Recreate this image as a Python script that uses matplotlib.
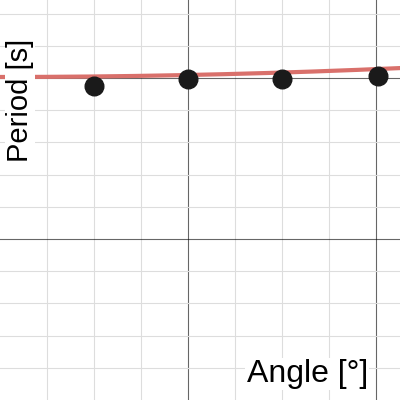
import numpy as np
import matplotlib.pyplot as plt

angles = [10, 20, 30, 40.2]
periods = [1.975, 1.997, 1.997, 2.006]
T0 = 2.003
k = 0.025  # fit curve coefficient

fig = plt.figure(figsize=(4, 4), dpi=100)
ax = fig.add_axes([0, 0, 1, 1])
ax.set_xlim(0, 42.55)
ax.set_ylim(1.0, 2.242)
for x in np.arange(5, 43, 5):
    ax.axvline(x, color='#000000' if x % 20 == 0 else '#dddddd', lw=0.8, alpha=0.6 if x % 20 == 0 else 1, zorder=0)
for y in np.arange(1.1, 2.25, 0.1):
    major = abs(y * 2 - round(y * 2)) < 1e-6
    ax.axhline(y, color='#000000' if major else '#dddddd', lw=0.8, alpha=0.6 if major else 1, zorder=0)
xs = np.linspace(0, 43, 200)
th = np.radians(xs)
ax.plot(xs, T0 * (1 + k * th ** 2), color='#d9706b', lw=3, zorder=2)
ax.scatter(angles, periods, s=180, color='#1a1a1a', zorder=3)
for s in ax.spines.values():
    s.set_visible(False)
ax.set_xticks([]); ax.set_yticks([])
fig.text(0.05, 0.75, 'Period [s]', rotation=90, ha='center', va='center', fontsize=21, family='Liberation Sans',
         bbox=dict(facecolor='white', edgecolor='none', pad=1))
fig.text(0.92, 0.065, 'Angle [°]', ha='right', va='center', fontsize=23, family='Liberation Sans',
         bbox=dict(facecolor='white', edgecolor='none', pad=1))
fig.savefig('out.png', dpi=100)
